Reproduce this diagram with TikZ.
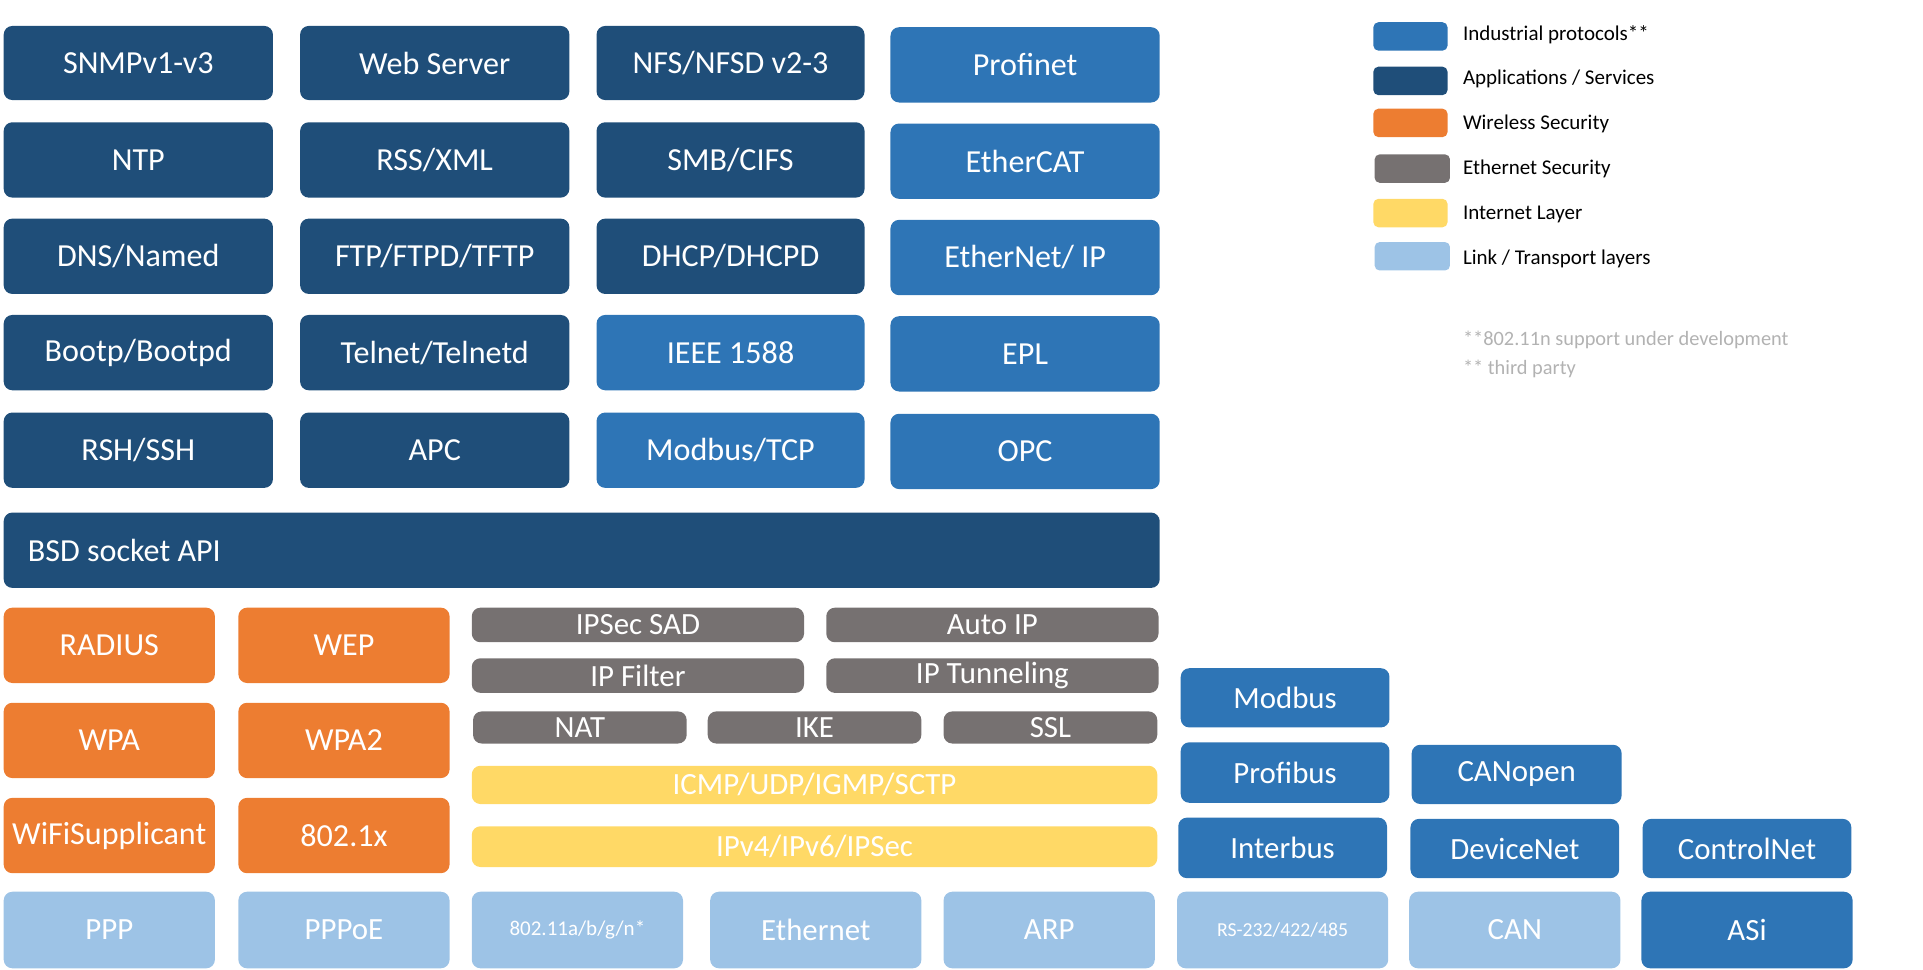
\documentclass[tikz,border=0pt]{standalone}
\usepackage{fontspec}
\setmainfont{Carlito}
\definecolor{ind}{HTML}{2E75B6}
\definecolor{app}{HTML}{1F4E79}
\definecolor{wsec}{HTML}{ED7D31}
\definecolor{esec}{HTML}{767171}
\definecolor{inet}{HTML}{FFD966}
\definecolor{link}{HTML}{9DC3E6}
\begin{document}
\begin{tikzpicture}[x=1pt,y=-1pt,
  bx/.style={rounded corners=7pt,text=white,align=center},
  big/.style={font=\fontsize{26}{28}\selectfont},
  mid/.style={font=\fontsize{25}{27}\selectfont},
  lg/.style={font=\fontsize{17}{19}\selectfont,anchor=west}]
\useasboundingbox (0,0) rectangle (1557,785);
\newcommand\bx[7]{\fill[#6,rounded corners=7pt] (#2,#3) rectangle (#4,#5); \node[#7] (#1) at ({(#2+#4)/2},{(#3+#5)/2}) {};}
\newcommand\tb[8]{\fill[#6,rounded corners=7pt] (#2,#3) rectangle (#4,#5); \node[text=white,#7,inner sep=0pt] (#1) at ({(#2+#4)/2},{(#3+#5)/2}) {#8};}
% top grid
\tb{a1}{3}{21}{221}{81}{app}{big}{SNMPv1-v3}
\tb{a2}{243}{21}{461}{81}{app}{big}{Web Server}
\tb{a3}{483}{21}{700}{81}{app}{big}{NFS/NFSD v2-3}
\tb{a4}{721}{22}{939}{83}{ind}{big}{Profinet}
\tb{b1}{3}{99}{221}{160}{app}{big}{NTP}
\tb{b2}{243}{99}{461}{160}{app}{big}{RSS/XML}
\tb{b3}{483}{99}{700}{160}{app}{big}{SMB/CIFS}
\tb{b4}{721}{100}{939}{161}{ind}{big}{EtherCAT}
\tb{c1}{3}{177}{221}{238}{app}{big}{DNS/Named}
\tb{c2}{243}{177}{461}{238}{app}{big}{FTP/FTPD/TFTP}
\tb{c3}{483}{177}{700}{238}{app}{big}{DHCP/DHCPD}
\tb{c4}{721}{178}{939}{239}{ind}{big}{EtherNet/ IP}
\tb{d1}{3}{255}{221}{316}{app}{big}{Bootp/Bootpd}
\tb{d2}{243}{255}{461}{316}{app}{big}{Telnet/Telnetd}
\tb{d3}{483}{255}{700}{316}{ind}{big}{IEEE 1588}
\tb{d4}{721}{256}{939}{317}{ind}{big}{EPL}
\tb{e1}{3}{334}{221}{395}{app}{big}{RSH/SSH}
\tb{e2}{243}{334}{461}{395}{app}{big}{APC}
\tb{e3}{483}{334}{700}{395}{ind}{big}{Modbus/TCP}
\tb{e4}{721}{335}{939}{396}{ind}{big}{OPC}
% BSD
\fill[app,rounded corners=7pt] (3,415) rectangle (939,476);
\node[text=white,big,anchor=west] (bsd) at (19,446) {BSD socket API};
% wireless
\tb{w1}{3}{492}{174}{553}{wsec}{big}{RADIUS}
\tb{w2}{193}{492}{364}{553}{wsec}{big}{WEP}
\tb{w3}{3}{569}{174}{630}{wsec}{big}{WPA}
\tb{w4}{193}{569}{364}{630}{wsec}{big}{WPA2}
\tb{w5}{3}{646}{174}{707}{wsec}{big}{WiFi\\[-4pt]Supplicant}
\tb{w6}{193}{646}{364}{707}{wsec}{big}{802.1x}
% ethernet security
\tb{g1}{382}{492}{651}{520}{esec}{mid}{IPSec SAD}
\tb{g2}{669}{492}{938}{520}{esec}{mid}{Auto IP}
\tb{g3}{382}{533}{651}{561}{esec}{mid}{IP Filter}
\tb{g4}{669}{533}{938}{561}{esec}{mid}{IP Tunneling}
\tb{g5}{383}{576}{556}{602}{esec}{mid}{NAT}
\tb{g6}{573}{576}{746}{602}{esec}{mid}{IKE}
\tb{g7}{764}{576}{937}{602}{esec}{mid}{SSL}
% internet
\tb{y1}{382}{620}{937}{651}{inet}{mid}{ICMP/UDP/IGMP/SCTP}
\tb{y2}{382}{669}{937}{702}{inet}{mid}{IPv4/IPv6/IPSec}
% link
\tb{l1}{3}{722}{174}{784}{link}{mid}{PPP}
\tb{l2}{193}{722}{364}{784}{link}{mid}{PPPoE}
\tb{l3}{382}{722}{553}{784}{link}{font=\fontsize{17}{19}\selectfont}{802.11a/b/g/n*}
\tb{l4}{575}{722}{746}{784}{link}{mid}{Ethernet}
\tb{l5}{764}{722}{935}{784}{link}{mid}{ARP}
\tb{l6}{953}{722}{1124}{784}{link}{font=\fontsize{16}{18}\selectfont}{RS-232/422/485}
\tb{l7}{1141}{722}{1312}{784}{link}{mid}{CAN}
\tb{l8}{1329}{722}{1500}{784}{ind}{mid}{ASi}
% fieldbus
\tb{f1}{956}{541}{1125}{589}{ind}{mid}{Modbus}
\tb{f2}{956}{601}{1125}{650}{ind}{mid}{Profibus}
\tb{f3}{954}{662}{1123}{711}{ind}{mid}{Interbus}
\tb{f4}{1143}{603}{1313}{651}{ind}{mid}{CANopen}
\tb{f5}{1142}{663}{1311}{711}{ind}{mid}{DeviceNet}
\tb{f6}{1330}{663}{1499}{711}{ind}{mid}{ControlNet}
% legend
\fill[ind,rounded corners=4pt] (1112,18) rectangle (1172,41);
\node[lg] (k1) at (1181,28) {Industrial protocols**};
\fill[app,rounded corners=4pt] (1112,54) rectangle (1172,77);
\node[lg] (k2) at (1181,64) {Applications / Services};
\fill[wsec,rounded corners=4pt] (1112,88) rectangle (1172,111);
\node[lg] (k3) at (1181,100) {Wireless Security};
\fill[esec,rounded corners=4pt] (1113,125) rectangle (1174,148);
\node[lg] (k4) at (1181,137) {Ethernet Security};
\fill[inet,rounded corners=4pt] (1112,161) rectangle (1172,184);
\node[lg] (k5) at (1181,174) {Internet Layer};
\fill[link,rounded corners=4pt] (1113,196) rectangle (1174,219);
\node[lg] (k6) at (1181,210) {Link / Transport layers};
\node[lg,text=black!30,font=\fontsize{16.5}{18}\selectfont] (n1) at (1181,275) {**802.11n support under development};
\node[lg,text=black!30,font=\fontsize{16.5}{18}\selectfont] (n2) at (1181,299) {** third party};
\end{tikzpicture}
\end{document}
